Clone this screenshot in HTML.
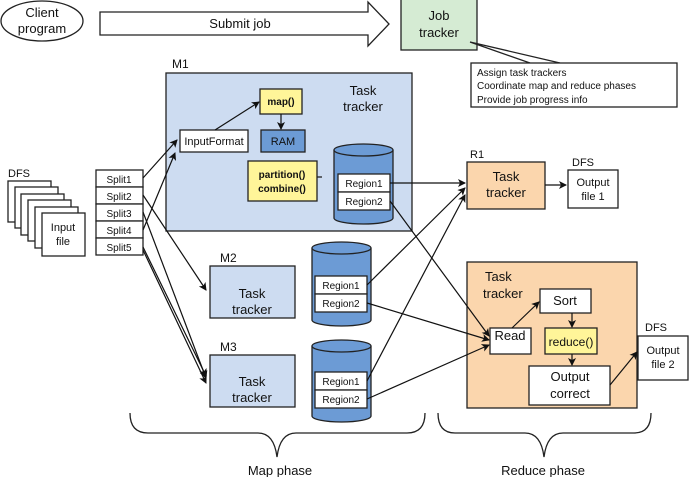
<!DOCTYPE html>
<html><head><meta charset="utf-8"><style>
html,body{margin:0;padding:0;background:#fff;}
svg{display:block;font-family:"Liberation Sans",sans-serif;}
</style></head><body>
<svg width="691" height="477" viewBox="0 0 691 477" xmlns="http://www.w3.org/2000/svg">
<defs>
<marker id="a" markerWidth="8" markerHeight="8" refX="7" refY="4" orient="auto" markerUnits="userSpaceOnUse">
<path d="M0,0 L8,4 L0,8 L2,4 Z" fill="#111"/></marker>
</defs>
<g stroke="#222" stroke-width="1.3" fill="none">
<ellipse cx="42" cy="21" rx="41" ry="20" fill="#fff"/>
<path d="M100,12 L368,12 L368,2 L389,24 L368,46 L368,35 L100,35 Z" fill="#fff"/>
<rect x="401" y="-1" width="76" height="51" fill="#d5ebd3"/>
<path d="M470,42 L530,63 M470,42 L560,63"/>
<rect x="471" y="63" width="206" height="44" fill="#fff"/>
<rect x="166" y="73" width="246" height="158" fill="#cddcf1"/>
<rect x="260" y="89" width="42" height="25" fill="#fff599"/>
<rect x="261" y="130" width="44" height="22" fill="#6c9bd5"/>
<rect x="180" y="130" width="68" height="22" fill="#fff"/>
<rect x="248" y="161" width="69" height="40" fill="#fff599"/>
<path d="M317,177 L322,177"/>
<g fill="#6c9bd5">
<path d="M334,150 L334,218 A29.5,6 0 0 0 393,218 L393,150"/>
<ellipse cx="363.5" cy="150" rx="29.5" ry="6"/>
<path d="M312,248 L312,320 A29.5,6 0 0 0 371,320 L371,248"/>
<ellipse cx="341.5" cy="248" rx="29.5" ry="6"/>
<path d="M312,346 L312,416 A29.5,6 0 0 0 371,416 L371,346"/>
<ellipse cx="341.5" cy="346" rx="29.5" ry="6"/>
</g>
<g fill="#fff">
<rect x="338" y="174" width="52" height="18"/><rect x="338" y="192" width="52" height="18"/>
<rect x="315" y="276" width="52" height="18"/><rect x="315" y="294" width="52" height="18"/>
<rect x="315" y="372" width="52" height="18"/><rect x="315" y="390" width="52" height="18"/>
</g>
<g fill="#fff">
<rect x="8" y="181" width="43" height="41"/><rect x="15" y="187" width="43" height="41"/>
<rect x="21" y="194" width="43" height="41"/><rect x="28" y="200" width="43" height="41"/>
<rect x="35" y="207" width="43" height="41"/><rect x="42" y="213" width="43" height="43"/>
</g>
<g fill="#fff">
<rect x="96" y="170" width="47" height="17"/><rect x="96" y="187" width="47" height="17"/>
<rect x="96" y="204" width="47" height="17"/><rect x="96" y="221" width="47" height="17"/>
<rect x="96" y="238" width="47" height="17"/>
</g>
<rect x="210" y="266" width="85" height="52" fill="#cddcf1"/>
<rect x="210" y="355" width="85" height="52" fill="#cddcf1"/>
<rect x="467" y="162" width="78" height="47" fill="#fbd6ad"/>
<rect x="568" y="170" width="50" height="38" fill="#fff"/>
<rect x="467" y="262" width="170" height="146" fill="#fbd6ad"/>
<rect x="540" y="289" width="51" height="24" fill="#fff"/>
<rect x="490" y="328" width="41" height="26" fill="#fff"/>
<rect x="545" y="328" width="52" height="26" fill="#fff599"/>
<rect x="529" y="366" width="81" height="39" fill="#fff"/>
<rect x="638" y="336" width="50" height="44" fill="#fff"/>
<path d="M130,413 Q130,433 148,433 L258,433 Q274,433 277,457 Q280,433 296,433 L407,433 Q425,433 425,413"/>
<path d="M438,413 Q438,433 455,433 L525,433 Q541,433 544,457 Q547,433 563,433 L634,433 Q651,433 651,413"/>
</g>
<g stroke="#111" stroke-width="1.2" fill="none" marker-end="url(#a)">
<path d="M215,130 L259,102"/>
<path d="M281,114 L281,129"/>
<path d="M143,178 L177,140"/>
<path d="M143,230 L175,153"/>
<path d="M143,195 L206,290"/>
<path d="M143,212 L206,378"/>
<path d="M143,247 L206,376"/>
<path d="M143,250 L206,383"/>
<path d="M390,183 L465,183"/>
<path d="M390,201 L489,336"/>
<path d="M367,285 L465,188"/>
<path d="M367,303 L489,340"/>
<path d="M367,381 L465,195"/>
<path d="M367,399 L489,345"/>
<path d="M545,185 L566,185"/>
<path d="M512,328 L539,302"/>
<path d="M572,313 L572,327"/>
<path d="M572,354 L572,365"/>
<path d="M610,385 L637,352"/>
</g>
<g fill="#111" font-size="13" text-anchor="middle">
<text x="42" y="17">Client</text><text x="42" y="33">program</text>
<text x="240" y="28">Submit job</text>
<text x="439" y="20">Job</text><text x="439" y="37">tracker</text>
<text x="363" y="95">Task</text><text x="363" y="111">tracker</text>
<text x="252" y="298">Task</text><text x="252" y="314">tracker</text>
<text x="252" y="386">Task</text><text x="252" y="402">tracker</text>
<text x="506" y="181">Task</text><text x="506" y="197">tracker</text>
<text x="510" y="340">Read</text><text x="565" y="305">Sort</text>
<text x="570" y="381">Output</text><text x="570" y="398">correct</text>
<text x="280" y="475">Map phase</text><text x="543" y="475">Reduce phase</text>
<text x="571" y="346" font-size="12">reduce()</text>
</g>
<g fill="#111" font-size="11" text-anchor="middle">
<text x="281" y="105" font-weight="bold" font-size="10">map()</text>
<text x="283" y="145">RAM</text>
<text x="214" y="145">InputFormat</text>
<text x="282" y="178" font-weight="bold" font-size="10">partition()</text>
<text x="282" y="192" font-weight="bold" font-size="10">combine()</text>
<text x="364" y="187" font-size="10">Region1</text><text x="364" y="205" font-size="10">Region2</text>
<text x="341" y="289" font-size="10">Region1</text><text x="341" y="307" font-size="10">Region2</text>
<text x="341" y="385" font-size="10">Region1</text><text x="341" y="403" font-size="10">Region2</text>
<text x="119" y="183" font-size="10">Split1</text><text x="119" y="200" font-size="10">Split2</text>
<text x="119" y="217" font-size="10">Split3</text><text x="119" y="234" font-size="10">Split4</text>
<text x="119" y="251" font-size="10">Split5</text>
<text x="63" y="231">Input</text><text x="63" y="245">file</text>
<text x="593" y="186">Output</text><text x="593" y="200">file 1</text>
<text x="663" y="354">Output</text><text x="663" y="368">file 2</text>
</g>
<g fill="#111" font-size="11">
<text x="8" y="177">DFS</text><text x="572" y="166">DFS</text><text x="645" y="331">DFS</text>
<text x="470" y="158">R1</text>
<text x="172" y="68" font-size="12">M1</text><text x="220" y="262" font-size="12">M2</text><text x="220" y="351" font-size="12">M3</text>
<text x="477" y="76" font-size="10">Assign task trackers</text>
<text x="477" y="89" font-size="10">Coordinate map and reduce phases</text>
<text x="477" y="103" font-size="10">Provide job progress info</text>
<text x="485" y="281" font-size="13">Task</text><text x="483" y="298" font-size="13">tracker</text>
</g>
</svg>
</body></html>
